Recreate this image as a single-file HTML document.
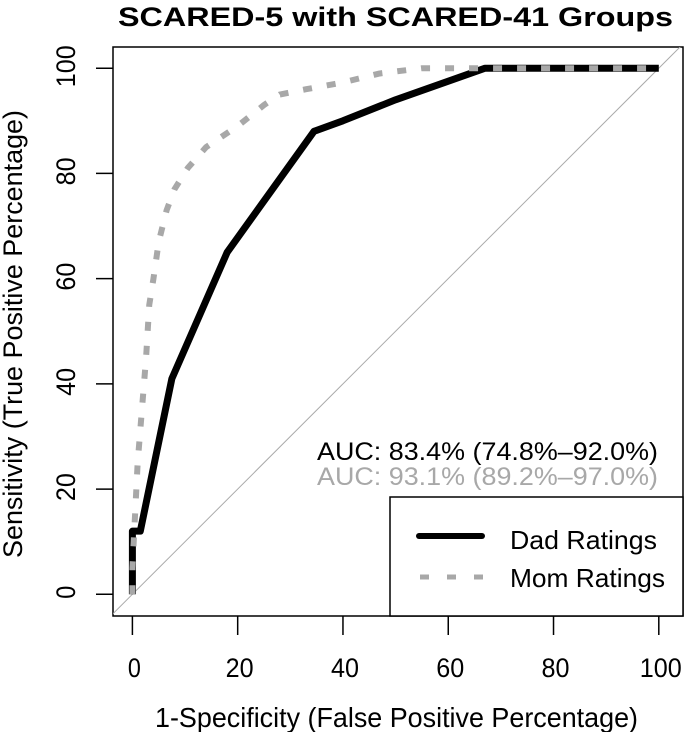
<!DOCTYPE html>
<html><head><meta charset="utf-8"><style>
body{margin:0;background:#fff}
svg text{font-family:"Liberation Sans",Arial,sans-serif}
</style></head><body>
<svg id="chart" width="685" height="732" viewBox="0 0 685 732" xmlns="http://www.w3.org/2000/svg">
<defs><clipPath id="pc"><rect x="113" y="47" width="570" height="569"/></clipPath></defs>
<text x="118" y="26" font-size="27" font-weight="bold" textLength="555" lengthAdjust="spacingAndGlyphs">SCARED-5 with SCARED-41 Groups</text>
<rect x="113" y="47" width="570" height="569" fill="none" stroke="#000" stroke-width="1.5"/>
<g id="xticks"></g><g id="yticks"></g>
<g clip-path="url(#pc)" id="marks"></g>
<text x="317" y="460" font-size="25" fill="#000" textLength="341" lengthAdjust="spacingAndGlyphs">AUC: 83.4% (74.8%–92.0%)</text>
<text x="317" y="485" font-size="25" fill="#a8a8a8" textLength="341" lengthAdjust="spacingAndGlyphs">AUC: 93.1% (89.2%–97.0%)</text>
<g>
<rect x="390" y="497" width="293" height="119" fill="#fff" stroke="#000" stroke-width="1.5"/>
<line x1="419" y1="536" x2="482" y2="536" stroke="#000" stroke-width="6" stroke-linecap="round"/>
<text x="510" y="549" font-size="26" textLength="147" lengthAdjust="spacingAndGlyphs">Dad Ratings</text>
<line x1="420" y1="577" x2="483" y2="577" stroke="#a8a8a8" stroke-width="5" stroke-dasharray="9,18"/>
<text x="510" y="587" font-size="26" textLength="155" lengthAdjust="spacingAndGlyphs">Mom Ratings</text>
</g>
<text x="155" y="727" font-size="28" textLength="483" lengthAdjust="spacingAndGlyphs">1-Specificity (False Positive Percentage)</text>
<text transform="translate(22,558) rotate(-90)" font-size="27" textLength="448" lengthAdjust="spacingAndGlyphs">Sensitivity (True Positive Percentage)</text>
</svg>
<script>
const ticks=[0,20,40,60,80,100];
const dadFpr=[0,0,1.5,7.5,18,34.5,40,50,67,100];
const dadTpr=[0,12,12,41,65,88,90,94,100,100];
const momFpr=[0,0,0.5,1,1.8,2.6,3.2,4,5,6.5,8,10.5,14,20,25,28,33,40,47,55,100];
const momTpr=[0,5,15,25,35,45,55,60,67,73,77,81,85,89,93,95,96,97.3,99,100,100];
const X=v=>132.4+v*5.264, Y=v=>594.3-v*5.261;
const NS="http://www.w3.org/2000/svg";
function mk(t,a,p){const e=document.createElementNS(NS,t);for(const k in a)e.setAttribute(k,a[k]);p.appendChild(e);return e;}
const xt=document.getElementById('xticks'),yt=document.getElementById('yticks'),m=document.getElementById('marks');
const lw=s=>s.length===1?13:(s.length===2?28:42);
ticks.forEach(t=>{
 const s=String(t);
 const l=mk('line',{x1:X(t),x2:X(t),y1:616,y2:635,stroke:'#000','stroke-width':1.5},xt);
 
 
 const tx=mk('text',{x:X(t)+2-lw(s)/2,y:677,'font-size':27,textLength:lw(s),lengthAdjust:'spacingAndGlyphs'},xt);tx.textContent=s;
 
 
 const l2=mk('line',{x1:96,x2:113,y1:Y(t),y2:Y(t),stroke:'#000','stroke-width':1.5},yt);
 
 
 const ty=mk('text',{transform:`translate(75,${Y(t)-2+lw(s)/2}) rotate(-90)`,'font-size':27,textLength:lw(s),lengthAdjust:'spacingAndGlyphs'},yt);ty.textContent=s;
 
 
});
const d=mk('line',{x1:X(-5),y1:Y(-5),x2:X(105),y2:Y(105),stroke:'#aaa','stroke-width':1},m);


const pts=(xs,ys)=>xs.map((x,i)=>X(x)+','+Y(ys[i])).join(' ');
const dad=mk('polyline',{points:pts(dadFpr,dadTpr),fill:'none',stroke:'#000','stroke-width':7,'stroke-linejoin':'round'},m);


const mom=mk('polyline',{points:pts(momFpr,momTpr),fill:'none',stroke:'#a8a8a8','stroke-width':6,'stroke-dasharray':'9,15','stroke-linejoin':'round'},m);


</script>
</body></html>
